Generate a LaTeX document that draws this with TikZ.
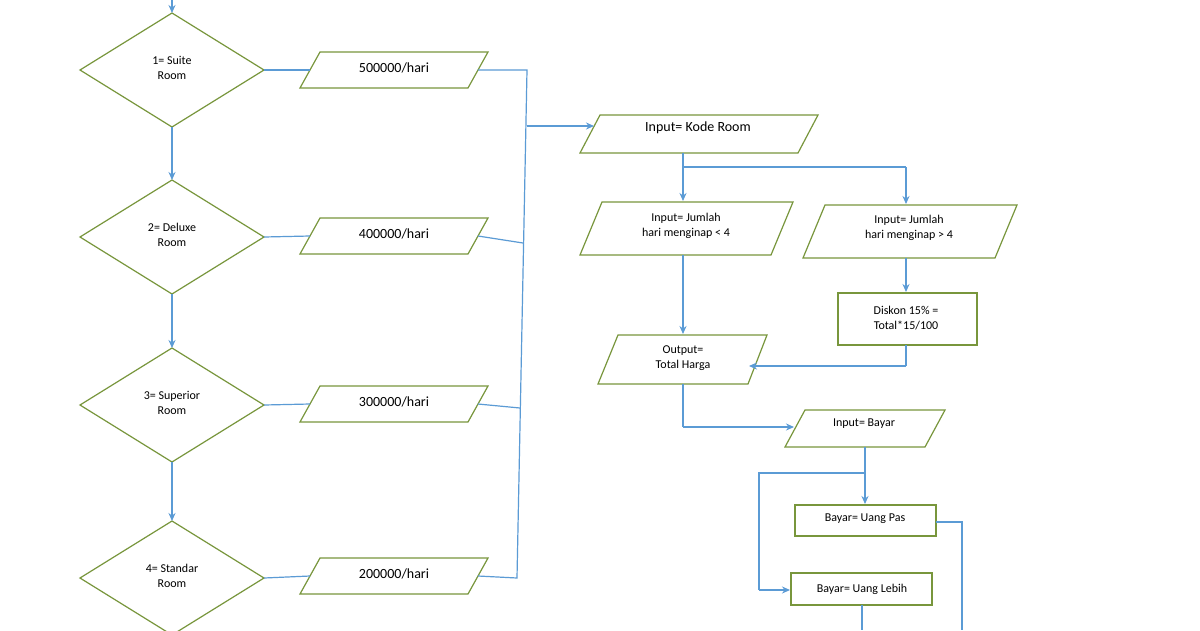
\documentclass[tikz,border=0pt]{standalone}
\usepackage{fontspec}
\setmainfont{Carlito}
\usetikzlibrary{arrows.meta}
\definecolor{shpc}{RGB}{120,150,60}
\definecolor{lnc}{RGB}{91,155,213}
\begin{document}
\begin{tikzpicture}[x=1pt,y=-1pt,
  shp/.style={draw=shpc, line width=1.2pt, fill=white},
  ln/.style={draw=lnc, line width=1.2pt},
  ar/.style={ln,-{Stealth[length=8pt,width=7pt]}},
  tx/.style={font=\fontsize{12}{15}\selectfont, align=center, inner sep=0pt},
  bt/.style={font=\fontsize{14}{16}\selectfont, inner sep=0pt}]
\useasboundingbox (0,0) rectangle (1200,630);
\fill[white] (0,0) rectangle (1200,630);
% diamonds
\foreach \n/\y/\t in {d1/70/{1= Suite\\Room}, d2/237/{2= Deluxe\\Room}, d3/405/{3= Superior\\Room}, d4/578/{4= Standar\\Room}}{
  \draw[shp] (80,\y) -- (172,\y-57) -- (264,\y) -- (172,\y+57) -- cycle;
  \node[tx] (\n) at (172,\y-2) {\t};
  \coordinate (\n t) at (172,\y-57);
  \coordinate (\n b) at (172,\y+57);
  \coordinate (\n r) at (264,\y);
}
\coordinate (top) at (172,0);
\draw[ar] (top) -- (d1t);
\draw[ar] (d1b) -- (d2t);
\draw[ar] (d2b) -- (d3t);
\draw[ar] (d3b) -- (d4t);
% price parallelograms
\foreach \n/\y/\t in {p1/70/{500000/hari}, p2/236/{400000/hari}, p3/404/{300000/hari}, p4/576/{200000/hari}}{
  \draw[shp] (320,\y-18) -- (488,\y-18) -- (468,\y+18) -- (300,\y+18) -- cycle;
  \node[bt] (\n) at (394,\y-2) {\t};
  \coordinate (\n l) at (310,\y);
  \coordinate (\n r) at (478,\y);
}
\coordinate (v1) at (527,70);
\coordinate (v2) at (523,243);
\coordinate (v3) at (520,408);
\coordinate (v4) at (517,578);
\coordinate (vk) at (527,126);
\draw[ln] (d1r) -- (p1l);
\draw[ln] (d2r) -- (p2l);
\draw[ln] (d3r) -- (p3l);
\draw[ln] (d4r) -- (p4l);
\draw[ln] (p1r) -- (v1) -- (v4) -- (p4r);
\draw[ln] (p2r) -- (v2);
\draw[ln] (p3r) -- (v3);
% right side
\draw[shp] (600,115) -- (818,115) -- (798,153) -- (580,153) -- cycle;
\node[bt] (kode) at (698,128) {Input= Kode Room};
\draw[ar] (vk) -- (594,126);
\draw[shp] (602,202) -- (793,202) -- (771,255) -- (580,255) -- cycle;
\node[tx] (j1) at (686,226) {Input= Jumlah\\hari menginap < 4};
\draw[shp] (825,205) -- (1017,205) -- (995,258) -- (803,258) -- cycle;
\node[tx] (j2) at (909,228) {Input= Jumlah\\hari menginap > 4};
\draw[ln] (683,153) -- (683,167) -- (906,167);
\draw[ar] (683,167) -- (683,201);
\draw[ar] (906,167) -- (906,204);
\draw[shp] (838,293) rectangle (977,345);
\node[tx] (disk) at (906,318) {Diskon 15\% =\\Total*15/100};
\draw[ar] (906,258) -- (906,292);
\draw[shp] (618,335) -- (767,335) -- (748,384) -- (598,384) -- cycle;
\node[tx] (out) at (683,358) {Output=\\Total Harga};
\draw[ar] (683,255) -- (683,334);
\draw[ln] (906,345) -- (906,366);
\draw[ar] (906,366) -- (749,366);
\draw[shp] (805,410) -- (945,410) -- (925,447) -- (785,447) -- cycle;
\node[tx] (bayar) at (864,424) {Input= Bayar};
\draw[ln] (683,384) -- (683,427);
\draw[ar] (683,427) -- (794,427);
\draw[shp] (795,505) rectangle (936,536);
\node[tx] (pas) at (865,519) {Bayar= Uang Pas};
\draw[ar] (865,447) -- (865,504);
\draw[shp] (791,573) rectangle (932,605);
\node[tx] (lebih) at (862,589) {Bayar= Uang Lebih};
\draw[ln] (865,473) -- (759,473) -- (759,590);
\draw[ar] (759,590) -- (790,590);
\draw[ln] (936,522) -- (962,522) -- (962,630);
\draw[ln] (862,605) -- (862,630);
\end{tikzpicture}
\end{document}
